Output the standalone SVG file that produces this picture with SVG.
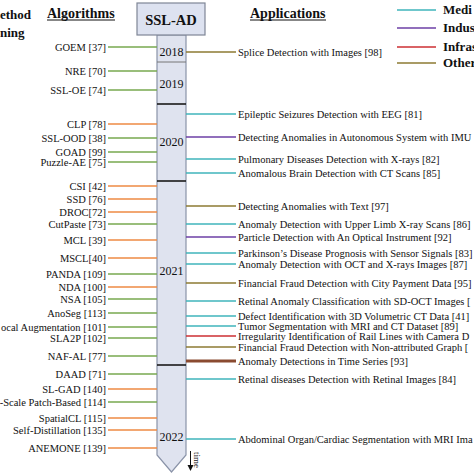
<svg xmlns="http://www.w3.org/2000/svg" width="474" height="474" viewBox="0 0 474 474">
<style>
.t{font-family:"Liberation Serif","Times New Roman",serif;font-size:10.5px;fill:#111}
.l{text-anchor:end}
.h{font-family:"Liberation Serif","Times New Roman",serif;font-weight:bold;font-size:14px;fill:#111}
.y{font-family:"Liberation Serif","Times New Roman",serif;font-size:12px;fill:#111;text-anchor:middle}
.lg{font-family:"Liberation Serif","Times New Roman",serif;font-weight:bold;font-size:13px;fill:#111}
.g{stroke:#77a84f;stroke-width:1.4}
.o{stroke:#ee8a43;stroke-width:1.4}
.m{stroke:#3fb4bb;stroke-width:1.4}
.p{stroke:#6c3fa6;stroke-width:1.4}
.r{stroke:#cc2f33;stroke-width:1.4}
.x{stroke:#8c7a32;stroke-width:1.4}
.dv{stroke:#1a1a1a;stroke-width:1.6}
</style>
<rect width="474" height="474" fill="#fff"/>
<g id="legend-left">
<text class="lg" x="0" y="19">ethod</text>
<text class="lg" x="0" y="37">ning</text>
</g>
<g id="headers">
<text class="h" x="47" y="18">Algorithms</text>
<line x1="47" y1="20" x2="115" y2="20" stroke="#111" stroke-width="1"/>
<text class="h" x="250" y="18">Applications</text>
<line x1="250" y1="20" x2="326" y2="20" stroke="#111" stroke-width="1"/>
</g>
<g id="legend">
<line x1="397" y1="10" x2="436" y2="10" class="m"/>
<text class="lg" x="443" y="14">Medi</text>
<line x1="397" y1="28" x2="436" y2="28" class="p"/>
<text class="lg" x="443" y="32">Indus</text>
<line x1="397" y1="47" x2="436" y2="47" class="r"/>
<text class="lg" x="443" y="51">Infras</text>
<line x1="397" y1="63" x2="436" y2="63" class="x"/>
<text class="lg" x="443" y="67">Other</text>
</g>
<g id="timeline">
<polygon points="157,35 186,35 186,455 171.5,472 157,455" fill="#dfe3ef" stroke="#8a93a8" stroke-width="1.2"/>
<rect x="137" y="3" width="68" height="32" fill="#dde2f0" stroke="#7f8696" stroke-width="1.2"/>
<text x="171" y="25" text-anchor="middle" style="font-family:'Liberation Serif',serif;font-weight:bold;font-size:14.5px;fill:#111">SSL-AD</text>
<line x1="157" y1="62" x2="186" y2="62" stroke="#777" stroke-width="1"/>
<line x1="157" y1="104" x2="186" y2="104" class="dv"/>
<line x1="157" y1="181" x2="186" y2="181" class="dv"/>
<line x1="157" y1="365" x2="186" y2="365" class="dv"/>
<text class="y" x="171.5" y="56">2018</text>
<text class="y" x="171.5" y="88">2019</text>
<text class="y" x="171.5" y="146">2020</text>
<text class="y" x="171.5" y="275">2021</text>
<text class="y" x="171.5" y="441">2022</text>
<line x1="190.5" y1="451" x2="190.5" y2="466" stroke="#111" stroke-width="1"/>
<polygon points="187.5,465 193.5,465 190.5,471" fill="#111"/>
<text x="194" y="452" transform="rotate(90 194 452)" style="font-family:'Liberation Serif',serif;font-size:9px;fill:#111">time</text>
</g>
<g id="connectors">
<line x1="108" y1="47" x2="157" y2="47" class="g"/>
<line x1="108" y1="71" x2="157" y2="71" class="g"/>
<line x1="108" y1="90" x2="157" y2="90" class="g"/>
<line x1="108" y1="124" x2="157" y2="124" class="o"/>
<line x1="108" y1="138" x2="157" y2="138" class="g"/>
<line x1="108" y1="152" x2="157" y2="152" class="g"/>
<line x1="108" y1="162" x2="157" y2="162" class="g"/>
<line x1="108" y1="186" x2="157" y2="186" class="o"/>
<line x1="108" y1="199" x2="157" y2="199" class="o"/>
<line x1="108" y1="212" x2="157" y2="212" class="o"/>
<line x1="108" y1="224" x2="157" y2="224" class="g"/>
<line x1="108" y1="240" x2="157" y2="240" class="o"/>
<line x1="108" y1="258" x2="157" y2="258" class="o"/>
<line x1="108" y1="274" x2="157" y2="274" class="g"/>
<line x1="108" y1="287" x2="157" y2="287" class="o"/>
<line x1="108" y1="299" x2="157" y2="299" class="g"/>
<line x1="108" y1="313" x2="157" y2="313" class="g"/>
<line x1="108" y1="327" x2="157" y2="327" class="g"/>
<line x1="108" y1="338" x2="157" y2="338" class="g"/>
<line x1="108" y1="356" x2="157" y2="356" class="g"/>
<line x1="108" y1="374" x2="157" y2="374" class="g"/>
<line x1="108" y1="389" x2="157" y2="389" class="o"/>
<line x1="108" y1="402" x2="157" y2="402" class="g"/>
<line x1="108" y1="418" x2="157" y2="418" class="o"/>
<line x1="108" y1="430" x2="157" y2="430" class="o"/>
<line x1="108" y1="448" x2="157" y2="448" class="o"/>
<line x1="186" y1="52" x2="236" y2="52" class="x"/>
<line x1="186" y1="114" x2="236" y2="114" class="m"/>
<line x1="186" y1="137" x2="236" y2="137" class="p"/>
<line x1="186" y1="159" x2="236" y2="159" class="m"/>
<line x1="186" y1="173" x2="236" y2="173" class="m"/>
<line x1="186" y1="206" x2="236" y2="206" class="x"/>
<line x1="186" y1="224" x2="236" y2="224" class="m"/>
<line x1="186" y1="237" x2="236" y2="237" class="p"/>
<line x1="186" y1="253" x2="236" y2="253" class="m"/>
<line x1="186" y1="264" x2="236" y2="264" class="m"/>
<line x1="186" y1="283" x2="236" y2="283" class="x"/>
<line x1="186" y1="301" x2="236" y2="301" class="m"/>
<line x1="186" y1="316" x2="236" y2="316" class="m"/>
<line x1="186" y1="326" x2="236" y2="326" class="m"/>
<line x1="186" y1="336" x2="236" y2="336" class="r"/>
<line x1="186" y1="347" x2="236" y2="347" class="x"/>
<line x1="186" y1="361" x2="236" y2="361" stroke="#8a4a30" stroke-width="3"/>
<line x1="186" y1="379" x2="236" y2="379" class="m"/>
<line x1="186" y1="439" x2="236" y2="439" class="m"/>
</g>
<g id="algorithms">
<text class="t l" x="106" y="51">GOEM [37]</text>
<text class="t l" x="106" y="75">NRE [70]</text>
<text class="t l" x="106" y="94">SSL-OE [74]</text>
<text class="t l" x="106" y="128">CLP [78]</text>
<text class="t l" x="106" y="142">SSL-OOD [38]</text>
<text class="t l" x="106" y="156">GOAD [99]</text>
<text class="t l" x="106" y="166">Puzzle-AE [75]</text>
<text class="t l" x="106" y="190">CSI [42]</text>
<text class="t l" x="106" y="203">SSD [76]</text>
<text class="t l" x="106" y="216">DROC[72]</text>
<text class="t l" x="106" y="228">CutPaste [73]</text>
<text class="t l" x="106" y="244">MCL [39]</text>
<text class="t l" x="106" y="262">MSCL[40]</text>
<text class="t l" x="106" y="278">PANDA [109]</text>
<text class="t l" x="106" y="291">NDA [100]</text>
<text class="t l" x="106" y="303">NSA [105]</text>
<text class="t l" x="106" y="317">AnoSeg [113]</text>
<text class="t l" x="106" y="331">ocal Augmentation [101]</text>
<text class="t l" x="106" y="342">SLA2P [102]</text>
<text class="t l" x="106" y="360">NAF-AL [77]</text>
<text class="t l" x="106" y="378">DAAD [71]</text>
<text class="t l" x="106" y="393">SL-GAD [140]</text>
<text class="t l" x="106" y="406">-Scale Patch-Based [114]</text>
<text class="t l" x="106" y="422">SpatialCL [115]</text>
<text class="t l" x="106" y="434">Self-Distillation [135]</text>
<text class="t l" x="106" y="452">ANEMONE [139]</text>
</g>
<g id="applications">
<text class="t" x="238" y="56">Splice Detection with Images [98]</text>
<text class="t" x="238" y="118">Epileptic Seizures Detection with EEG [81]</text>
<text class="t" x="238" y="141">Detecting Anomalies in Autonomous System with IMU</text>
<text class="t" x="238" y="163">Pulmonary Diseases Detection with X-rays [82]</text>
<text class="t" x="238" y="177">Anomalous Brain Detection with CT Scans [85]</text>
<text class="t" x="238" y="210">Detecting Anomalies with Text [97]</text>
<text class="t" x="238" y="228">Anomaly Detection with Upper Limb X-ray Scans [86]</text>
<text class="t" x="238" y="241">Particle Detection with An Optical Instrument [92]</text>
<text class="t" x="238" y="257">Parkinson’s Disease Prognosis with Sensor Signals [83]</text>
<text class="t" x="238" y="268">Anomaly Detection with OCT and X-rays Images [87]</text>
<text class="t" x="238" y="287">Financial Fraud Detection with City Payment Data [95]</text>
<text class="t" x="238" y="305">Retinal Anomaly Classification with SD-OCT Images [</text>
<text class="t" x="238" y="320">Defect Identification with 3D Volumetric CT Data [41]</text>
<text class="t" x="238" y="330">Tumor Segmentation with MRI and CT Dataset [89]</text>
<text class="t" x="238" y="340">Irregularity Identification of Rail Lines with Camera D</text>
<text class="t" x="238" y="351">Financial Fraud Detection with Non-attributed Graph [</text>
<text class="t" x="238" y="365">Anomaly Detections in Time Series [93]</text>
<text class="t" x="238" y="383">Retinal diseases Detection with Retinal Images [84]</text>
<text class="t" x="238" y="443">Abdominal Organ/Cardiac Segmentation with MRI Ima</text>
</g>
</svg>
